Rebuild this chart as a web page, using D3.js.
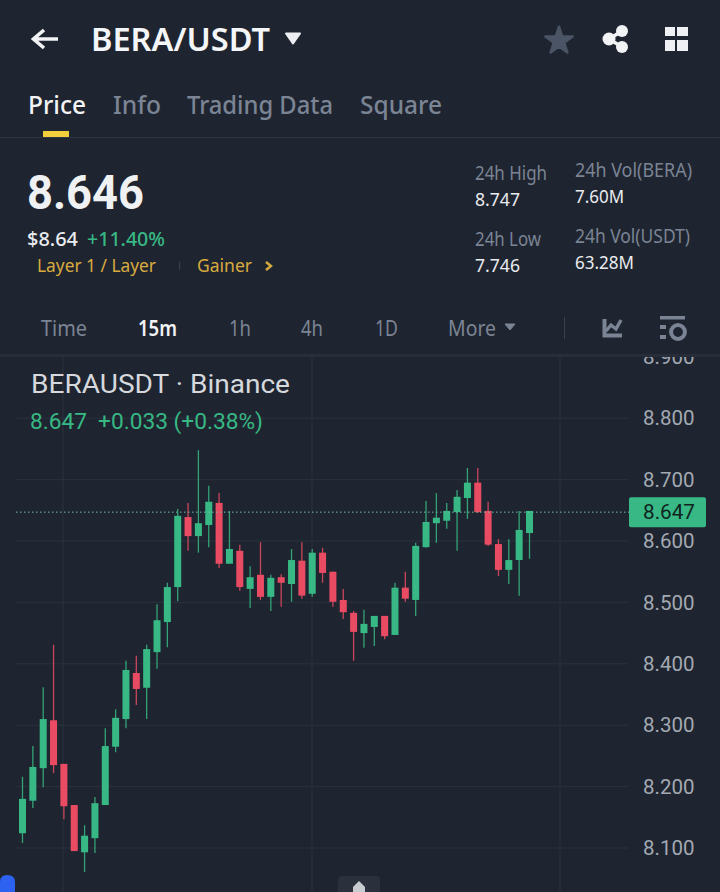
<!DOCTYPE html>
<html><head><meta charset="utf-8">
<script src="https://cdnjs.cloudflare.com/ajax/libs/d3/7.8.5/d3.min.js"></script>
<style>html,body{margin:0;padding:0;background:#1e2530;overflow:hidden}svg{display:block}text{font-family:"Noto Sans",sans-serif}</style>
</head><body><svg id="c" width="720" height="892"></svg>
<script>
const opens=[8.124,8.177,8.230,8.308,8.237,8.170,8.093,8.116,8.170,8.265,8.310,8.385,8.361,8.419,8.468,8.525,8.639,8.608,8.626,8.662,8.563,8.584,8.522,8.545,8.509,8.541,8.530,8.568,8.514,8.581,8.550,8.504,8.483,8.450,8.460,8.478,8.447,8.524,8.504,8.590,8.629,8.633,8.647,8.670,8.695,8.649,8.595,8.553,8.569,8.613];
const closes=[8.180,8.232,8.310,8.235,8.168,8.095,8.120,8.173,8.266,8.312,8.390,8.359,8.424,8.471,8.525,8.641,8.608,8.629,8.664,8.563,8.587,8.525,8.541,8.509,8.540,8.532,8.569,8.511,8.581,8.548,8.501,8.484,8.452,8.465,8.478,8.445,8.524,8.506,8.592,8.631,8.638,8.649,8.672,8.695,8.647,8.594,8.553,8.569,8.618,8.649];
const highs=[8.216,8.266,8.362,8.431,8.237,8.170,8.137,8.183,8.295,8.326,8.405,8.413,8.431,8.497,8.532,8.652,8.662,8.748,8.690,8.678,8.649,8.594,8.559,8.598,8.545,8.546,8.587,8.598,8.587,8.589,8.550,8.522,8.486,8.488,8.478,8.478,8.532,8.550,8.597,8.665,8.678,8.662,8.683,8.719,8.719,8.664,8.603,8.603,8.649,8.649];
const lows=[8.108,8.165,8.199,8.222,8.147,8.095,8.061,8.092,8.170,8.256,8.295,8.333,8.310,8.392,8.427,8.502,8.584,8.581,8.590,8.556,8.563,8.519,8.491,8.504,8.486,8.493,8.501,8.506,8.509,8.532,8.493,8.473,8.405,8.426,8.429,8.440,8.447,8.501,8.478,8.589,8.597,8.620,8.584,8.636,8.646,8.592,8.543,8.530,8.511,8.571];
const priceTicks=[8.1,8.2,8.3,8.4,8.5,8.6,8.7,8.8,8.9];
const lastPrice=8.647;
const tabs=["Price","Info","Trading Data","Square"];
const intervals=["Time","15m","1h","4h","1D","More"];

const BG="#1f2530",GREEN="#37b884",RED="#e94b63",GRID="#2a313c",MUTED="#7b8494",LIGHT="#eaecef",GOLD="#d9ab3f";
const svg=d3.select("#c");
svg.append("rect").attr("width",720).attr("height",892).attr("fill",BG);

function T(x,y,s,size,fill,opt={}){
  const t=svg.append("text").attr("x",x).attr("y",y).text(s).attr("font-size",size).attr("fill",fill)
    .attr("font-weight",opt.w||400).attr("text-anchor",opt.a||"start");
  if(opt.f)t.style("font-family",opt.f);
  if(opt.l)t.attr("textLength",opt.l).attr("lengthAdjust","spacingAndGlyphs");
  return t;
}
// Header
svg.append("path").attr("d","M58 39H35M44 30L33.5 39L44 48").attr("fill","none").attr("stroke","#f2f3f5").attr("stroke-width",3.6);
T(91,51,"BERA/USDT",33,"#f5f6f7",{w:600,l:179});
svg.append("path").attr("d","M286 33.5H300L293 43.5Z").attr("fill","#eceef1").attr("stroke","#eceef1").attr("stroke-width",2).attr("stroke-linejoin","round");
svg.append("path").attr("d",d3.symbol(d3.symbolStar,230)()).attr("transform","translate(559,41)").attr("fill","#4a5465").attr("stroke","#4a5465").attr("stroke-width",2.5).attr("stroke-linejoin","round");
svg.append("path").attr("d","M622 31L609 39L622 47").attr("fill","none").attr("stroke","#f2f3f5").attr("stroke-width",3.4);
[[622,31,6],[609,39,6.5],[622,47,6]].forEach(a=>svg.append("circle").attr("cx",a[0]).attr("cy",a[1]).attr("r",a[2]).attr("fill","#f2f3f5"));
[[665,27,10,9],[677,27,11,9],[665,40,10,11],[677,40,11,11]].forEach(a=>svg.append("rect").attr("x",a[0]).attr("y",a[1]).attr("width",a[2]).attr("height",a[3]).attr("fill","#eef0f3"));

// Tabs
const tabX=[28,113,187,360],tabL=[58,48,146,82];
tabs.forEach((s,i)=>T(tabX[i],114,s,25,i?MUTED:"#f2f3f5",{w:500,l:tabL[i]}));
svg.append("rect").attr("x",43).attr("y",131).attr("width",26).attr("height",6).attr("fill","#f0cf3a");
svg.append("rect").attr("x",0).attr("y",137).attr("width",720).attr("height",1).attr("fill","#2f3641");

// Price block
T(27,209,"8.646",49,"#eff1f3",{w:700,l:117,f:"Roboto"});
T(27,246,"$8.64",20,"#eaecef",{w:500,l:51});
T(87,246,"+11.40%",20,GREEN,{w:500,l:78});
T(37,272,"Layer 1 / Layer",18.5,GOLD,{l:119});
svg.append("rect").attr("x",179).attr("y",262).attr("width",1).attr("height",8).attr("fill","#3a424e");
T(197,272,"Gainer",18.5,GOLD,{l:55});
svg.append("path").attr("d","M266 262L271 266L266 270").attr("fill","none").attr("stroke",GOLD).attr("stroke-width",2.4);
T(475,180,"24h High",19,MUTED,{l:72});
T(475,206,"8.747",18.5,LIGHT,{l:45});
T(475,246,"24h Low",19,MUTED,{l:66});
T(475,272,"7.746",18.5,LIGHT,{l:45});
T(575,177,"24h Vol(BERA)",19,MUTED,{l:117});
T(575,203,"7.60M",18.5,LIGHT,{l:49});
T(575,243,"24h Vol(USDT)",19,MUTED,{l:115});
T(575,269,"63.28M",18.5,LIGHT,{l:59});

// Intervals
const ivX=[41,138,229,301,375,448],ivL=[46,39,22,22,23,48];
intervals.forEach((s,i)=>T(ivX[i],336,s,21,i==1?"#f2f3f5":MUTED,{w:i==1?600:400,l:ivL[i]}));
svg.append("path").attr("d","M505 324H515L510 330Z").attr("fill",MUTED).attr("stroke",MUTED).attr("stroke-linejoin","round");
svg.append("rect").attr("x",564).attr("y",317).attr("width",1).attr("height",22).attr("fill","#39414d");
svg.append("path").attr("d","M604.5 319V335.5H622").attr("fill","none").attr("stroke",MUTED).attr("stroke-width",4);
svg.append("path").attr("d","M606 331L611 325L616 329L621 320").attr("fill","none").attr("stroke",MUTED).attr("stroke-width",3.4);
svg.append("rect").attr("x",660).attr("y",316).attr("width",25).attr("height",3.5).attr("fill",MUTED);
[[660,325],[660,335]].forEach(a=>svg.append("rect").attr("x",a[0]).attr("y",a[1]).attr("width",6).attr("height",4).attr("fill",MUTED));
svg.append("path").attr("d",d3.symbol(d3.symbolCircle,150)()).attr("transform","translate(678,332)").attr("fill","none").attr("stroke",MUTED).attr("stroke-width",4);
svg.append("rect").attr("x",0).attr("y",354).attr("width",720).attr("height",3).attr("fill","#272e39");

// Chart
const y=d3.scaleLinear().domain([8.1,8.9]).range([848,356.8]);
const x=d3.scaleLinear().domain([0,49]).range([22.5,529.5]);
const bw=7;
const plot=svg.append("g");
[63,312,560].forEach(v=>plot.append("line").attr("x1",v).attr("x2",v).attr("y1",357).attr("y2",892).attr("stroke",GRID));
plot.selectAll(".h").data(priceTicks.slice(0,-1)).join("line").attr("x1",16).attr("x2",628).attr("y1",d=>y(d)).attr("y2",d=>y(d)).attr("stroke",GRID);

const axis=d3.axisRight(y).tickValues(priceTicks).tickFormat(d3.format(".3f")).tickSize(0).tickPadding(0);
svg.append("clipPath").attr("id","ax").append("rect").attr("x",-13).attr("y",357).attr("width",90).attr("height",535);
const ag=svg.append("g").attr("transform","translate(643,0)").attr("clip-path","url(#ax)").call(axis);
ag.select(".domain").remove();
ag.selectAll("text").attr("fill","#a3a9b3").attr("font-size",20.5).attr("dy","0.33em").style("font-family","Roboto");

const idx=d3.range(opens.length);
const col=i=>closes[i]>=opens[i]?GREEN:RED;
plot.selectAll(".w").data(idx).join("line").attr("x1",i=>x(i)).attr("x2",i=>x(i)).attr("y1",i=>y(highs[i])).attr("y2",i=>y(lows[i])).attr("stroke",col).attr("stroke-width",1.3).attr("stroke-opacity",.85);
plot.selectAll(".b").data(idx).join("rect").attr("x",i=>x(i)-bw/2).attr("width",bw)
  .attr("y",i=>y(Math.max(opens[i],closes[i]))).attr("height",i=>Math.abs(y(opens[i])-y(closes[i]))).attr("fill",col);

plot.append("line").attr("x1",16).attr("x2",630).attr("y1",y(lastPrice)).attr("y2",y(lastPrice)).attr("stroke","#6fbfa4").attr("stroke-dasharray","1.5 2.5");
svg.append("rect").attr("x",629).attr("y",y(lastPrice)-15).attr("width",77).attr("height",30).attr("rx",2).attr("fill",GREEN);
T(643,y(lastPrice)+7,d3.format(".3f")(lastPrice),20.5,"#10241f",{f:"Roboto",l:52});

T(31,393,"BERAUSDT · Binance",25.5,"#d5d8dd",{f:"Roboto",l:259});
T(30,429,"8.647",21.5,GREEN,{f:"Roboto",l:57});
T(98,429,"+0.033 (+0.38%)",21.5,GREEN,{f:"Roboto",l:165});

// Bottom controls
svg.append("path").attr("d","M0 892V882Q0 875 7 875Q15 875 15 882V892Z").attr("fill","#2d62f0");
svg.append("path").attr("d","M338 892V880Q338 876 342 876H376Q380 876 380 880V892Z").attr("fill","#2a313c");
svg.append("path").attr("d","M353 892V887L359 881L365 887V892Z").attr("fill","#c9ccd1");
</script></body></html>
